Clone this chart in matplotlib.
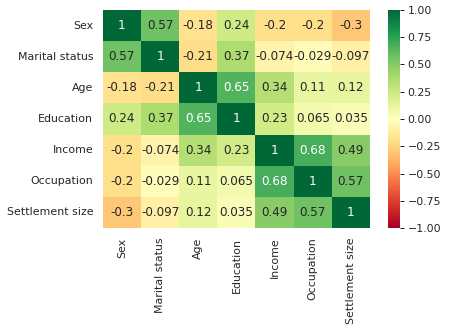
import numpy as np
import pandas as pd
import matplotlib
matplotlib.use("Agg")
import matplotlib.pyplot as plt
import seaborn as sns

labels = ["Sex", "Marital status", "Age", "Education", "Income",
          "Occupation", "Settlement size"]

sex = [1, 0.57, -0.18, 0.24, -0.2, -0.2, -0.3]
marital = [0.57, 1, -0.21, 0.37, -0.074, -0.029, -0.097]
age = [-0.18, -0.21, 1, 0.65, 0.34, 0.11, 0.12]
education = [0.24, 0.37, 0.65, 1, 0.23, 0.065, 0.035]
income = [-0.2, -0.074, 0.34, 0.23, 1, 0.68, 0.49]
occupation = [-0.2, -0.029, 0.11, 0.065, 0.68, 1, 0.57]
settlement = [-0.3, -0.097, 0.12, 0.035, 0.49, 0.57, 1]

corr = pd.DataFrame([sex, marital, age, education, income, occupation, settlement],
                    index=labels, columns=labels)

sns.set()
plt.rcParams['font.family'] = ['DejaVu Sans']

fig = plt.figure(figsize=(449 / 72, 331 / 72), dpi=72)
ax = fig.add_axes([0.229, 0.311, 0.595, 0.659])
cax = fig.add_axes([0.864, 0.311, 0.027, 0.659])

sns.heatmap(corr, annot=True, cmap="RdYlGn", vmin=-1, vmax=1,
            ax=ax, cbar_ax=cax)
cax.tick_params(length=4, width=1, color="#262626")

fig.savefig("out.png", dpi=72)
